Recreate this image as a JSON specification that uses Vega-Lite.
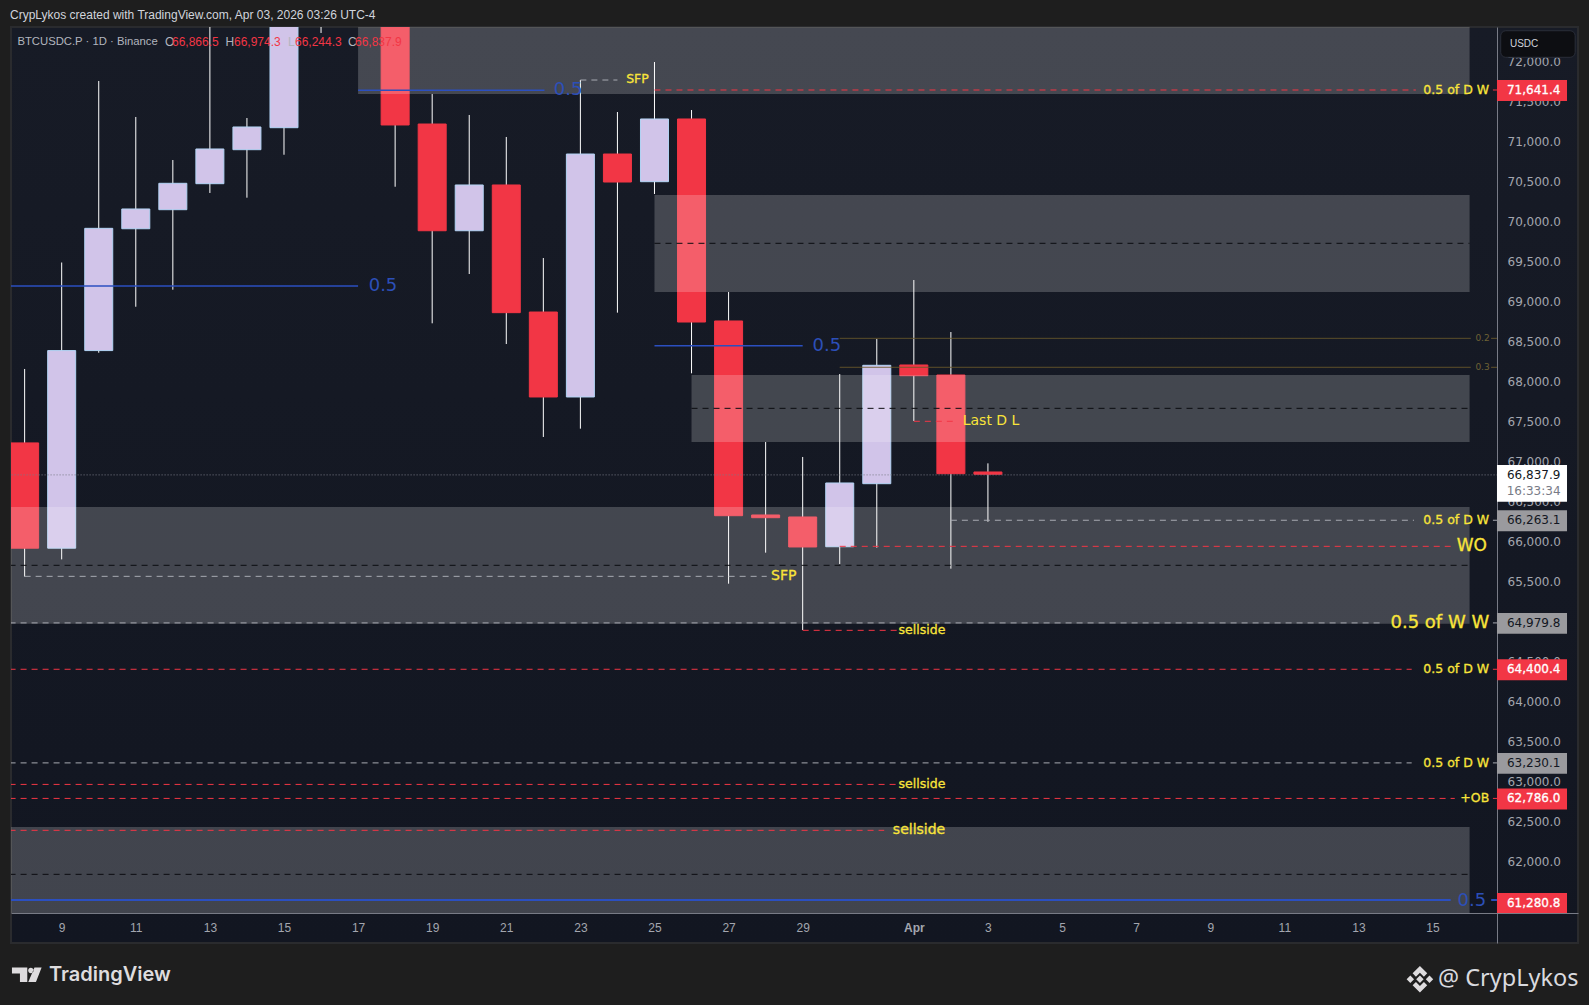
{
  "$schema": "https://vega.github.io/schema/vega-lite/v6.json",
  "autosize": "none",
  "width": 1567,
  "height": 916,
  "padding": {"left": 11, "top": 27, "right": 11, "bottom": 62},
  "background": "#1e1e1e",
  "view": {
    "fill": {"gradient": "linear", "x1": 0, "y1": 0, "x2": 0, "y2": 1, "stops": [{"offset": 0, "color": "#171b26"}, {"offset": 1, "color": "#121621"}]},
    "stroke": "#2a2b2e",
    "strokeWidth": 2
  },
  "title": {
    "text": "CrypLykos created with TradingView.com, Apr 03, 2026 03:26 UTC-4",
    "anchor": "start",
    "frame": "group",
    "offset": -4,
    "dx": -1,
    "baseline": "alphabetic",
    "font": "Liberation Sans",
    "fontSize": 12,
    "fontWeight": "normal",
    "color": "#d1d4dc"
  },
  "datasets": {
    "candles": [
      {"date": "2026-03-08", "open": 67230, "high": 68154, "low": 65559, "close": 65914, "dir": "down"},
      {"date": "2026-03-09", "open": 65914, "high": 69485, "low": 65774, "close": 68384, "dir": "up"},
      {"date": "2026-03-10", "open": 68384, "high": 71754, "low": 68357, "close": 69912, "dir": "up"},
      {"date": "2026-03-11", "open": 69907, "high": 71304, "low": 68932, "close": 70154, "dir": "up"},
      {"date": "2026-03-12", "open": 70145, "high": 70766, "low": 69145, "close": 70475, "dir": "up"},
      {"date": "2026-03-13", "open": 70470, "high": 72600, "low": 70354, "close": 70904, "dir": "up"},
      {"date": "2026-03-14", "open": 70895, "high": 71291, "low": 70295, "close": 71179, "dir": "up"},
      {"date": "2026-03-15", "open": 71170, "high": 73000, "low": 70832, "close": 72600, "dir": "up"},
      {"date": "2026-03-16", "open": 72600, "high": 73900, "low": 72354, "close": 73500, "dir": "up"},
      {"date": "2026-03-17", "open": 73500, "high": 73800, "low": 72500, "close": 72900, "dir": "down"},
      {"date": "2026-03-18", "open": 72900, "high": 73600, "low": 70432, "close": 71204, "dir": "down"},
      {"date": "2026-03-19", "open": 71216, "high": 71591, "low": 68725, "close": 69882, "dir": "down"},
      {"date": "2026-03-20", "open": 69882, "high": 71329, "low": 69341, "close": 70454, "dir": "up"},
      {"date": "2026-03-21", "open": 70454, "high": 71054, "low": 68466, "close": 68858, "dir": "down"},
      {"date": "2026-03-22", "open": 68866, "high": 69541, "low": 67304, "close": 67804, "dir": "down"},
      {"date": "2026-03-23", "open": 67804, "high": 71766, "low": 67408, "close": 70841, "dir": "up"},
      {"date": "2026-03-24", "open": 70841, "high": 71366, "low": 68858, "close": 70491, "dir": "down"},
      {"date": "2026-03-25", "open": 70495, "high": 71991, "low": 70341, "close": 71279, "dir": "up"},
      {"date": "2026-03-26", "open": 71279, "high": 71391, "low": 68100, "close": 68741, "dir": "down"},
      {"date": "2026-03-27", "open": 68754, "high": 69116, "low": 65470, "close": 66320, "dir": "down"},
      {"date": "2026-03-28", "open": 66329, "high": 67241, "low": 65858, "close": 66295, "dir": "down"},
      {"date": "2026-03-29", "open": 66304, "high": 67054, "low": 64891, "close": 65929, "dir": "down"},
      {"date": "2026-03-30", "open": 65932, "high": 68091, "low": 65716, "close": 66729, "dir": "up"},
      {"date": "2026-03-31", "open": 66720, "high": 68529, "low": 65920, "close": 68200, "dir": "up"},
      {"date": "2026-04-01", "open": 68204, "high": 69266, "low": 67504, "close": 68070, "dir": "down"},
      {"date": "2026-04-02", "open": 68079, "high": 68616, "low": 65658, "close": 66845, "dir": "down"},
      {"date": "2026-04-03", "open": 66866.5, "high": 66974.3, "low": 66244.3, "close": 66837.9, "dir": "down"}
    ],
    "zones": [
      {"start": "2026-03-17", "end": "2026-04-16", "top": 72600, "bottom": 71591},
      {"start": "2026-03-25", "end": "2026-04-16", "top": 70329, "bottom": 69116},
      {"start": "2026-03-26", "end": "2026-04-16", "top": 68079, "bottom": 67241},
      {"start": "2026-03-07", "end": "2026-04-16", "top": 66429, "bottom": 64970},
      {"start": "2026-03-07", "end": "2026-04-16", "top": 62429, "bottom": 61354}
    ],
    "levels": [
      {"start": "2026-03-25", "end": "2026-04-16", "price": 69725, "kind": "black"},
      {"start": "2026-03-26", "end": "2026-04-16", "price": 67662, "kind": "black"},
      {"start": "2026-03-07", "end": "2026-04-16", "price": 65700, "kind": "black"},
      {"start": "2026-03-07", "end": "2026-04-16", "price": 61837, "kind": "black"},
      {"start": "2026-03-07", "end": "2026-03-17", "price": 69191, "kind": "blue"},
      {"start": "2026-03-17", "end": "2026-03-22T00:45:00Z", "price": 71637, "kind": "blue"},
      {"start": "2026-03-25", "end": "2026-03-29", "price": 68445, "kind": "blue"},
      {"start": "2026-03-07", "end": "2026-04-15T11:45:00Z", "price": 61516, "kind": "bluebold"},
      {"start": "2026-04-16T14:00:00Z", "end": "2026-04-16T17:45:00Z", "price": 61516, "kind": "bluebold"},
      {"start": "2026-03-25", "end": "2026-04-14T13:12:00Z", "price": 71641.4, "kind": "red"},
      {"start": "2026-04-16T15:07:00Z", "end": "2026-04-16T17:45:00Z", "price": 71641.4, "kind": "red"},
      {"start": "2026-03-07", "end": "2026-04-14T10:30:00Z", "price": 64400.4, "kind": "red"},
      {"start": "2026-04-16T15:07:00Z", "end": "2026-04-16T17:45:00Z", "price": 64400.4, "kind": "red"},
      {"start": "2026-03-07", "end": "2026-04-15T14:24:00Z", "price": 62786, "kind": "red"},
      {"start": "2026-04-16T15:07:00Z", "end": "2026-04-16T17:45:00Z", "price": 62786, "kind": "red"},
      {"start": "2026-03-07", "end": "2026-03-31T15:00:00Z", "price": 62961, "kind": "red"},
      {"start": "2026-03-30", "end": "2026-04-15T11:45:00Z", "price": 65937, "kind": "red"},
      {"start": "2026-03-29", "end": "2026-03-31T13:12:00Z", "price": 64887, "kind": "red"},
      {"start": "2026-04-01", "end": "2026-04-02T01:12:00Z", "price": 67500, "kind": "red"},
      {"start": "2026-03-07", "end": "2026-03-31T04:48:00Z", "price": 62387, "kind": "red"},
      {"start": "2026-04-02", "end": "2026-04-14T12:00:00Z", "price": 66263.1, "kind": "grey"},
      {"start": "2026-04-16T15:07:00Z", "end": "2026-04-16T17:45:00Z", "price": 66263.1, "kind": "grey"},
      {"start": "2026-03-07", "end": "2026-04-13T14:00:00Z", "price": 64979.8, "kind": "grey"},
      {"start": "2026-04-16T15:07:00Z", "end": "2026-04-16T17:45:00Z", "price": 64979.8, "kind": "grey"},
      {"start": "2026-03-07", "end": "2026-04-14T10:30:00Z", "price": 63230.1, "kind": "grey"},
      {"start": "2026-04-16T15:07:00Z", "end": "2026-04-16T17:45:00Z", "price": 63230.1, "kind": "grey"},
      {"start": "2026-03-23", "end": "2026-03-24", "price": 71766, "kind": "grey"},
      {"start": "2026-03-08", "end": "2026-03-28T00:43:00Z", "price": 65562, "kind": "grey"},
      {"start": "2026-03-30", "end": "2026-04-16T00:43:00Z", "price": 68537, "kind": "fib"},
      {"start": "2026-04-16T14:00:00Z", "end": "2026-04-16T17:45:00Z", "price": 68537, "kind": "fib"},
      {"start": "2026-03-30", "end": "2026-04-16T00:43:00Z", "price": 68175, "kind": "fib"},
      {"start": "2026-04-16T14:00:00Z", "end": "2026-04-16T17:45:00Z", "price": 68175, "kind": "fib"},
      {"start": "2026-03-07", "end": "2026-04-16T17:45:00Z", "price": 66830, "kind": "last"}
    ],
    "labels_center": [
      {"date": "2026-03-17T16:08:00Z", "price": 69191, "label": "0.5", "kind": "blue"},
      {"date": "2026-03-22T16:00:00Z", "price": 71637, "label": "0.5", "kind": "blue"},
      {"date": "2026-03-29T15:36:00Z", "price": 68445, "label": "0.5", "kind": "blue"},
      {"date": "2026-04-16T01:26:00Z", "price": 61504, "label": "0.5", "kind": "blue"},
      {"date": "2026-03-24T13:00:00Z", "price": 71780, "label": "SFP", "kind": "small"},
      {"date": "2026-03-28T11:45:00Z", "price": 65570, "label": "SFP", "kind": "mid"},
      {"date": "2026-04-01T05:17:00Z", "price": 62970, "label": "sellside", "kind": "small"},
      {"date": "2026-04-01T05:17:00Z", "price": 64895, "label": "sellside", "kind": "small"},
      {"date": "2026-04-01T03:22:00Z", "price": 62395, "label": "sellside", "kind": "mid"},
      {"date": "2026-04-16T01:26:00Z", "price": 65937, "label": "WO", "kind": "large"},
      {"date": "2026-04-16T08:24:00Z", "price": 68537, "label": "0.2", "kind": "fib"},
      {"date": "2026-04-16T08:24:00Z", "price": 68175, "label": "0.3", "kind": "fib"}
    ],
    "labels_right": [
      {"date": "2026-04-16T12:43:00Z", "price": 71641.4, "label": "0.5 of D W", "kind": "small"},
      {"date": "2026-04-16T12:43:00Z", "price": 66263.1, "label": "0.5 of D W", "kind": "small"},
      {"date": "2026-04-16T12:43:00Z", "price": 64979.8, "label": "0.5 of W W", "kind": "large"},
      {"date": "2026-04-16T12:43:00Z", "price": 64400.4, "label": "0.5 of D W", "kind": "small"},
      {"date": "2026-04-16T12:43:00Z", "price": 63230.1, "label": "0.5 of D W", "kind": "small"},
      {"date": "2026-04-16T12:43:00Z", "price": 62786, "label": "+OB", "kind": "small"}
    ],
    "labels_left": [
      {"date": "2026-04-02T07:41:00Z", "price": 67510, "label": "Last D L", "kind": "mid"},
      {"date": "2026-04-17", "price": 66629, "label": "16:33:34", "kind": "timer"}
    ],
    "tags": [
      {"from": "2026-04-16T17:45:00Z", "to": "2026-04-18T15:07:00Z", "price": 71641.4, "at": 71641.4, "hi": 71766, "lo": 71504, "kind": "red"},
      {"from": "2026-04-16T17:45:00Z", "to": "2026-04-18T15:07:00Z", "price": 66263.1, "at": 66263.1, "hi": 66388, "lo": 66126, "kind": "grey"},
      {"from": "2026-04-16T17:45:00Z", "to": "2026-04-18T15:07:00Z", "price": 64979.8, "at": 64979.8, "hi": 65105, "lo": 64843, "kind": "grey"},
      {"from": "2026-04-16T17:45:00Z", "to": "2026-04-18T15:07:00Z", "price": 64400.4, "at": 64400.4, "hi": 64525, "lo": 64263, "kind": "red"},
      {"from": "2026-04-16T17:45:00Z", "to": "2026-04-18T15:07:00Z", "price": 63230.1, "at": 63230.1, "hi": 63355, "lo": 63093, "kind": "grey"},
      {"from": "2026-04-16T17:45:00Z", "to": "2026-04-18T15:07:00Z", "price": 62786, "at": 62786, "hi": 62911, "lo": 62649, "kind": "red"},
      {"from": "2026-04-16T17:45:00Z", "to": "2026-04-18T15:07:00Z", "price": 61280.8, "at": 61479, "hi": 61604, "lo": 61354, "kind": "red"},
      {"from": "2026-04-16T17:45:00Z", "to": "2026-04-18T15:07:00Z", "price": 66837.9, "at": 66829, "hi": 66954, "lo": 66495, "kind": "white"}
    ],
    "legend": [
      {"date": "2026-03-07T19:18:00Z", "label": "BTCUSDC.P · 1D · Binance", "kind": "name"},
      {"date": "2026-03-11T18:55:00Z", "label": "O", "kind": "dim"},
      {"date": "2026-03-11T23:27:00Z", "label": "66,866.5", "kind": "value"},
      {"date": "2026-03-13T10:05:00Z", "label": "H", "kind": "dim"},
      {"date": "2026-03-13T15:36:00Z", "label": "66,974.3", "kind": "value"},
      {"date": "2026-03-15T02:35:00Z", "label": "L", "kind": "dim"},
      {"date": "2026-03-15T07:07:00Z", "label": "66,244.3", "kind": "value"},
      {"date": "2026-03-16T17:27:00Z", "label": "C", "kind": "dim"},
      {"date": "2026-03-16T22:00:00Z", "label": "66,837.9", "kind": "value"}
    ]
  },
  "resolve": {"scale": {"color": "independent", "size": "independent", "stroke": "independent"}},
  "layer": [
    {
      "data": {"name": "candles"},
      "mark": {"type": "rule", "color": "#ffffff", "strokeWidth": 1, "clip": true},
      "encoding": {
        "x": {
          "field": "date",
          "type": "temporal",
          "title": null,
          "scale": {"type": "utc", "domain": ["2026-03-07T15:10:00Z", "2026-04-18T22:14:00Z"], "nice": false, "padding": 0},
          "axis": {
            "orient": "bottom",
            "offset": -30,
            "values": ["2026-03-09", "2026-03-11", "2026-03-13", "2026-03-15", "2026-03-17", "2026-03-19", "2026-03-21", "2026-03-23", "2026-03-25", "2026-03-27", "2026-03-29", "2026-04-01", "2026-04-03", "2026-04-05", "2026-04-07", "2026-04-09", "2026-04-11", "2026-04-13", "2026-04-15"],
            "labelExpr": "utcdate(datum.value) == 1 ? 'Apr' : utcdate(datum.value)",
            "labelFontWeight": {"condition": {"test": "utcdate(datum.value) == 1", "value": "bold"}, "value": "normal"},
            "labelFont": "Liberation Sans",
            "labelFontSize": 12,
            "labelColor": "#a3a6af",
            "labelPadding": 9,
            "labelOverlap": false,
            "labelFlush": false,
            "ticks": false,
            "tickSize": 0,
            "grid": false,
            "domainColor": "#787b86",
            "domainWidth": 1
          }
        },
        "y": {
          "field": "high",
          "type": "quantitative",
          "title": null,
          "scale": {"domain": [60978.75, 72428.75], "nice": false, "zero": false},
          "axis": {
            "orient": "right",
            "offset": -81,
            "values": [61500, 62000, 62500, 63000, 63500, 64000, 64500, 65000, 65500, 66000, 66500, 67000, 67500, 68000, 68500, 69000, 69500, 70000, 70500, 71000, 71500, 72000],
            "format": ",.1f",
            "labelFont": "DejaVu Sans",
            "labelFontSize": 12,
            "labelColor": "#a3a6af",
            "labelPadding": 10,
            "labelOverlap": false,
            "labelFlush": false,
            "ticks": false,
            "tickSize": 0,
            "grid": false,
            "domainColor": "#787b86",
            "domainWidth": 1
          }
        },
        "y2": {"field": "low"}
      }
    },
    {
      "data": {"name": "candles"},
      "mark": {"type": "bar", "size": 28, "strokeWidth": 1, "clip": true},
      "encoding": {
        "x": {"field": "date", "type": "temporal", "title": null},
        "y": {"field": "open", "type": "quantitative", "title": null},
        "y2": {"field": "close"},
        "color": {"field": "dir", "type": "nominal", "legend": null, "scale": {"domain": ["up", "down"], "range": ["#d1c4e9", "#f23645"]}},
        "stroke": {"field": "dir", "type": "nominal", "legend": null, "scale": {"domain": ["up", "down"], "range": ["#b3d4f5", "#f23645"]}}
      }
    },
    {
      "data": {"name": "zones"},
      "mark": {"type": "rect", "color": "#ffffff", "opacity": 0.2, "clip": true},
      "encoding": {
        "x": {"field": "start", "type": "temporal", "title": null},
        "x2": {"field": "end"},
        "y": {"field": "top", "type": "quantitative", "title": null},
        "y2": {"field": "bottom"}
      }
    },
    {
      "data": {"name": "levels"},
      "mark": {"type": "rule", "clip": true},
      "encoding": {
        "x": {"field": "start", "type": "temporal", "title": null},
        "x2": {"field": "end"},
        "y": {"field": "price", "type": "quantitative", "title": null},
        "color": {"field": "kind", "type": "nominal", "legend": null, "scale": {"domain": ["red", "grey", "black", "blue", "bluebold", "fib", "last"], "range": ["#f23645", "#a8aab2", "#0b0c10", "#2b4fc0", "#2b4fc0", "#6b5a2c", "#787b86"]}},
        "strokeDash": {"field": "kind", "type": "nominal", "legend": null, "scale": {"domain": ["red", "grey", "black", "blue", "bluebold", "fib", "last"], "range": [[6, 5], [6, 5], [6, 5], [1, 0], [1, 0], [1, 0], [1, 2]]}},
        "strokeWidth": {"field": "kind", "type": "nominal", "legend": null, "scale": {"type": "ordinal", "domain": ["red", "grey", "black", "blue", "bluebold", "fib", "last"], "range": [1, 1, 1, 1.5, 2, 1, 1]}}
      }
    },
    {
      "data": {"name": "labels_center"},
      "mark": {"type": "text", "font": "DejaVu Sans", "align": "center", "baseline": "middle", "strokeWidth": 0.3},
      "encoding": {
        "x": {"field": "date", "type": "temporal", "title": null},
        "y": {"field": "price", "type": "quantitative", "title": null},
        "text": {"field": "label"},
        "color": {"field": "kind", "type": "nominal", "legend": null, "scale": {"domain": ["blue", "small", "mid", "large", "fib"], "range": ["#2c4fb8", "#f9e43a", "#f9e43a", "#f9e43a", "#6f6235"]}},
        "stroke": {"field": "kind", "type": "nominal", "legend": null, "scale": {"domain": ["blue", "small", "mid", "large", "fib"], "range": ["transparent", "#f9e43a", "#f9e43a", "#f9e43a", "transparent"]}},
        "size": {"field": "kind", "type": "ordinal", "legend": null, "scale": {"type": "ordinal", "domain": ["blue", "small", "mid", "large", "fib"], "range": [18, 12.5, 14, 17, 9]}}
      }
    },
    {
      "data": {"name": "labels_right"},
      "mark": {"type": "text", "font": "DejaVu Sans", "align": "right", "baseline": "middle", "color": "#f9e43a", "stroke": "#f9e43a", "strokeWidth": 0.3},
      "encoding": {
        "x": {"field": "date", "type": "temporal", "title": null},
        "y": {"field": "price", "type": "quantitative", "title": null},
        "text": {"field": "label"},
        "size": {"field": "kind", "type": "ordinal", "legend": null, "scale": {"type": "ordinal", "domain": ["small", "large"], "range": [12.5, 18]}}
      }
    },
    {
      "data": {"name": "tags"},
      "mark": {"type": "rect"},
      "encoding": {
        "x": {"field": "from", "type": "temporal", "title": null},
        "x2": {"field": "to"},
        "y": {"field": "hi", "type": "quantitative", "title": null},
        "y2": {"field": "lo"},
        "color": {"field": "kind", "type": "nominal", "legend": null, "scale": {"domain": ["red", "grey", "white"], "range": ["#f23645", "#9a9a9e", "#ffffff"]}}
      }
    },
    {
      "data": {"name": "tags"},
      "mark": {"type": "text", "font": "DejaVu Sans", "fontSize": 12, "align": "left", "baseline": "middle", "dx": 10, "strokeWidth": 0.3},
      "encoding": {
        "x": {"field": "from", "type": "temporal", "title": null},
        "y": {"field": "at", "type": "quantitative", "title": null},
        "text": {"field": "price", "type": "quantitative", "format": ",.1f"},
        "color": {"field": "kind", "type": "nominal", "legend": null, "scale": {"domain": ["red", "grey", "white"], "range": ["#ffffff", "#131722", "#131722"]}},
        "stroke": {"field": "kind", "type": "nominal", "legend": null, "scale": {"domain": ["red", "grey", "white"], "range": ["#ffffff", "transparent", "transparent"]}}
      }
    },
    {
      "data": {"name": "labels_left"},
      "mark": {"type": "text", "font": "DejaVu Sans", "align": "left", "baseline": "middle"},
      "encoding": {
        "x": {"field": "date", "type": "temporal", "title": null},
        "y": {"field": "price", "type": "quantitative", "title": null},
        "text": {"field": "label"},
        "color": {"field": "kind", "type": "nominal", "legend": null, "scale": {"domain": ["mid", "timer"], "range": ["#f9e43a", "#787b86"]}},
        "size": {"field": "kind", "type": "ordinal", "legend": null, "scale": {"type": "ordinal", "domain": ["mid", "timer"], "range": [14, 12]}}
      }
    },
    {
      "data": {"name": "legend"},
      "mark": {"type": "text", "font": "Liberation Sans", "align": "left", "baseline": "middle"},
      "encoding": {
        "x": {"field": "date", "type": "temporal", "title": null},
        "y": {"datum": 72245, "type": "quantitative", "title": null},
        "text": {"field": "label"},
        "color": {"field": "kind", "type": "nominal", "legend": null, "scale": {"domain": ["name", "dim", "value"], "range": ["#b2b5be", "#b2b5be", "#f23645"]}},
        "size": {"field": "kind", "type": "ordinal", "legend": null, "scale": {"type": "ordinal", "domain": ["name", "dim", "value"], "range": [11.3, 12, 12]}}
      }
    },
    {
      "data": {"values": [{"from": "2026-04-16T20:10:00Z", "to": "2026-04-18T20:24:00Z", "hi": 72382, "lo": 72050}]},
      "mark": {"type": "rect", "fill": "#0d0e12", "stroke": "#2a2e39", "strokeWidth": 1, "cornerRadius": 5},
      "encoding": {
        "x": {"field": "from", "type": "temporal", "title": null},
        "x2": {"field": "to"},
        "y": {"field": "hi", "type": "quantitative", "title": null},
        "y2": {"field": "lo"}
      }
    },
    {
      "data": {"values": [{"date": "2026-04-17T02:10:00Z", "price": 72216, "label": "USDC"}]},
      "mark": {"type": "text", "font": "Liberation Sans", "fontSize": 10, "align": "left", "baseline": "middle", "color": "#d1d4dc"},
      "encoding": {
        "x": {"field": "date", "type": "temporal", "title": null},
        "y": {"field": "price", "type": "quantitative", "title": null},
        "text": {"field": "label"}
      }
    },
    {
      "data": {"values": [{"date": "2026-03-08T15:46:00Z", "price": 60579, "label": "TradingView"}]},
      "mark": {"type": "text", "font": "Inter", "fontSize": 20, "fontWeight": 600, "align": "left", "baseline": "middle", "color": "#dedcde"},
      "encoding": {
        "x": {"field": "date", "type": "temporal", "title": null},
        "y": {"field": "price", "type": "quantitative", "title": null},
        "text": {"field": "label"}
      }
    },
    {
      "data": {"values": [{"date": "2026-03-08T01:30:00Z", "price": 60582}]},
      "mark": {"type": "point", "filled": true, "opacity": 1, "size": 900, "color": "#dedcde", "shape": "M-1 -.478L.022 -.478L.022 .478L-.467 .478L-.467 -.078L-1 -.078ZM.08 -.278A.18 .18 0 1 0 .44 -.278A.18 .18 0 1 0 .08 -.278ZM.5 -.478L.978 -.478L.6 .478L.089 .478Z"},
      "encoding": {
        "x": {"field": "date", "type": "temporal", "title": null},
        "y": {"field": "price", "type": "quantitative", "title": null}
      }
    },
    {
      "data": {"values": [{"date": "2026-04-14T15:50:00Z", "price": 60525}]},
      "mark": {"type": "point", "filled": true, "opacity": 1, "size": 708, "color": "#dedcde", "shape": "M0 -1L.55 -.45L.3 -.2L0 -.5L-.3 -.2L-.55 -.45ZM0 1L.55 .45L.3 .2L0 .5L-.3 .2L-.55 .45ZM-1 0L-.72 -.28L-.44 0L-.72 .28ZM1 0L.72 -.28L.44 0L.72 .28ZM0 -.28L.28 0L0 .28L-.28 0Z"},
      "encoding": {
        "x": {"field": "date", "type": "temporal", "title": null},
        "y": {"field": "price", "type": "quantitative", "title": null}
      }
    },
    {
      "data": {"values": [{"date": "2026-04-15T03:30:00Z", "price": 60531, "label": "@ CrypLykos"}]},
      "mark": {"type": "text", "font": "Noto Sans", "fontSize": 23.5, "align": "left", "baseline": "middle", "color": "#d9dadf"},
      "encoding": {
        "x": {"field": "date", "type": "temporal", "title": null},
        "y": {"field": "price", "type": "quantitative", "title": null},
        "text": {"field": "label"}
      }
    }
  ]
}
